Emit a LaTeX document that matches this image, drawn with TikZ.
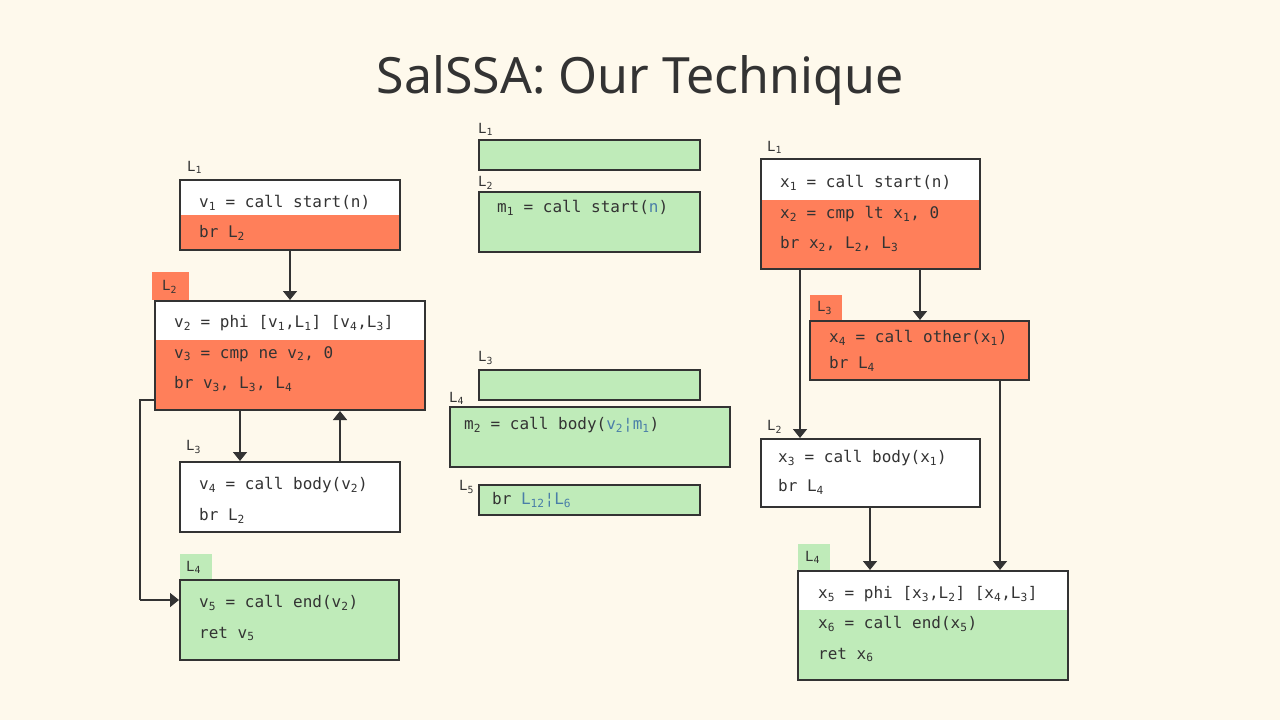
\documentclass[tikz,border=0pt]{standalone}
\usepackage{fontspec}
\setmainfont{DejaVu Sans Mono}
\newfontfamily\titlefont{Noto Sans}
\usetikzlibrary{arrows.meta}
\definecolor{bg}{HTML}{FEF9EC}
\definecolor{org}{HTML}{FF7F5A}
\definecolor{grn}{HTML}{BFEBB9}
\definecolor{ink}{HTML}{333333}
\definecolor{blu}{HTML}{4A7EA8}
\newcommand{\sbs}[1]{\textsubscript{#1}}
\newcommand{\bl}[1]{\textcolor{blu}{#1}}
\tikzset{
  blk/.style={draw=ink,line width=2pt},
  code/.style={anchor=west,inner sep=0pt,text=ink,font=\fontsize{16}{18}\selectfont},
  lbl/.style={anchor=west,inner sep=0pt,text=ink,font=\fontsize{14}{16}\selectfont},
  arr/.style={draw=ink,line width=1.6pt,-{Triangle[length=9pt,width=14pt]}},
}
\begin{document}
\begin{tikzpicture}[x=1pt,y=-1pt]
\fill[bg] (0,0) rectangle (1280,720);
\useasboundingbox (0,0) rectangle (1280,720);
\node[text=ink,font=\titlefont\bfseries\fontsize{50}{56}\selectfont] (title) at (640,80) {SalSSA: Our Technique};

% ---- left ----
\fill[white] (180,180) rectangle (400,215); \fill[org] (180,215) rectangle (400,250);
\draw[blk] (180,180) rectangle (400,250); \coordinate (a1b) at (290,250);
\node[lbl] (a1l) at (187,167) {L\sbs1};
\node[code] (a1t1) at (199,203) {v\sbs1 = call start(n)};
\node[code] (a1t2) at (199,233) {br L\sbs2};

\fill[white] (155,301) rectangle (425,340); \fill[org] (155,340) rectangle (425,410);
\draw[blk] (155,301) rectangle (425,410);
\fill[org] (152,272) rectangle (189,300);
\node[lbl] (a2l) at (162,287) {L\sbs2};
\node[code] (a2t1) at (174,323) {v\sbs2 = phi [v\sbs1,L\sbs1] [v\sbs4,L\sbs3]};
\node[code] (a2t2) at (174,354) {v\sbs3 = cmp ne v\sbs2, 0};
\node[code] (a2t3) at (174,384) {br v\sbs3, L\sbs3, L\sbs4};
\coordinate (a2t) at (290,300); \coordinate (a2b1) at (240,410); \coordinate (a2b2) at (340,411);
\coordinate (a2w) at (155,400);

\fill[white] (180,462) rectangle (400,532); \draw[blk] (180,462) rectangle (400,532);
\node[lbl] (a3l) at (186,447) {L\sbs3};
\node[code] (a3t1) at (199,485) {v\sbs4 = call body(v\sbs2)};
\node[code] (a3t2) at (199,516) {br L\sbs2};
\coordinate (a3t1c) at (240,461); \coordinate (a3t2c) at (340,461);

\fill[grn] (180,580) rectangle (399,660); \draw[blk] (180,580) rectangle (399,660);
\fill[grn] (180,554) rectangle (212,579);
\node[lbl] (a4l) at (186,567) {L\sbs4};
\node[code] (a4t1) at (199,603) {v\sbs5 = call end(v\sbs2)};
\node[code] (a4t2) at (199,634) {ret v\sbs5};
\coordinate (a4w) at (179,600);

\draw[arr] (a1b) -- (a2t);
\draw[arr] (a2b1) -- (a3t1c);
\draw[arr] (a3t2c) -- (a2b2);
\draw[draw=ink,line width=1.6pt] (a2w) -- (140,400) -- (140,600);
\draw[arr] (140,600) -- (a4w);

% ---- middle ----
\node[lbl] (m1l) at (478,129) {L\sbs1};
\draw[blk,fill=grn] (479,140) rectangle (700,170);
\node[lbl] (m2l) at (478,183) {L\sbs2};
\draw[blk,fill=grn] (479,192) rectangle (700,252);
\node[code] (m2t) at (497,208) {m\sbs1 = call start(\bl{n})};
\node[lbl] (m3l) at (478,358) {L\sbs3};
\draw[blk,fill=grn] (479,370) rectangle (700,400);
\node[lbl] (m4l) at (449,398) {L\sbs4};
\draw[blk,fill=grn] (450,407) rectangle (730,467);
\node[code] (m4t) at (464,425) {m\sbs2 = call body(\bl{v\sbs2\textbrokenbar m\sbs1})};
\node[lbl] (m5l) at (459,487) {L\sbs5};
\draw[blk,fill=grn] (479,485) rectangle (700,515);
\node[code] (m5t) at (492,500) {br \bl{L\sbs{12}\textbrokenbar L\sbs6}};

% ---- right ----
\fill[white] (761,159) rectangle (980,200); \fill[org] (761,200) rectangle (980,269);
\draw[blk] (761,159) rectangle (980,269);
\node[lbl] (r1l) at (767,147) {L\sbs1};
\node[code] (r1t1) at (780,183) {x\sbs1 = call start(n)};
\node[code] (r1t2) at (780,214) {x\sbs2 = cmp lt x\sbs1, 0};
\node[code] (r1t3) at (780,244) {br x\sbs2, L\sbs2, L\sbs3};
\coordinate (r1b1) at (920,269); \coordinate (r1b2) at (800,269);

\fill[org] (810,295) rectangle (842,320);
\draw[blk,fill=org] (810,321) rectangle (1029,380);
\node[lbl] (r3l) at (817,308) {L\sbs3};
\node[code] (r3t1) at (829,338) {x\sbs4 = call other(x\sbs1)};
\node[code] (r3t2) at (829,364) {br L\sbs4};
\coordinate (r3t) at (920,320); \coordinate (r3b) at (1000,380);

\draw[blk,fill=white] (761,439) rectangle (980,507);
\node[lbl] (r2l) at (767,427) {L\sbs2};
\node[code] (r2t1) at (778,458) {x\sbs3 = call body(x\sbs1)};
\node[code] (r2t2) at (778,487) {br L\sbs4};
\coordinate (r2t) at (800,438); \coordinate (r2b) at (870,507);

\fill[white] (798,571) rectangle (1068,610); \fill[grn] (798,610) rectangle (1068,680);
\draw[blk] (798,571) rectangle (1068,680);
\fill[grn] (798,544) rectangle (830,570);
\node[lbl] (r4l) at (805,557) {L\sbs4};
\node[code] (r4t1) at (818,594) {x\sbs5 = phi [x\sbs3,L\sbs2] [x\sbs4,L\sbs3]};
\node[code] (r4t2) at (818,624) {x\sbs6 = call end(x\sbs5)};
\node[code] (r4t3) at (818,655) {ret x\sbs6};
\coordinate (r4t1c) at (870,570); \coordinate (r4t2c) at (1000,570);

\draw[arr] (r1b1) -- (r3t);
\draw[arr] (r1b2) -- (r2t);
\draw[arr] (r2b) -- (r4t1c);
\draw[arr] (r3b) -- (r4t2c);
\end{tikzpicture}
\end{document}
